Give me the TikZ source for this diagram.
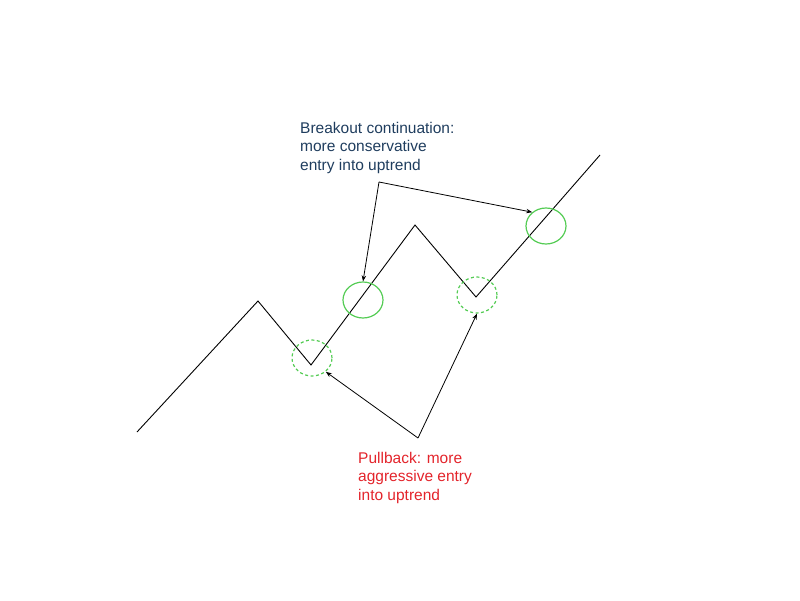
\documentclass[tikz,border=0pt]{standalone}
\usepackage{fontspec}
\setmainfont{Liberation Sans}
\usetikzlibrary{shapes.geometric,arrows.meta}
\definecolor{txtblue}{HTML}{1F3D5E}
\definecolor{txtred}{HTML}{E3242B}
\definecolor{ringgreen}{HTML}{55CC55}
\begin{document}
\begin{tikzpicture}[x=1pt,y=-1pt,
  trend/.style={draw=black,line width=0.9pt,line join=miter},
  ring/.style={draw=ringgreen,line width=1.2pt,ellipse,minimum width=40pt,minimum height=36pt,inner sep=0pt},
  dashring/.style={ring,dash pattern=on 3pt off 2.5pt},
  pointer/.style={draw=black,line width=0.8pt,-{Stealth[length=6pt,width=4.5pt]}},
  note/.style={align=left,anchor=north west,inner sep=0pt,font=\fontsize{15.5pt}{18.7pt}\selectfont}]
\useasboundingbox (0,0) rectangle (800,600);
% zigzag price path
\coordinate (p0) at (137,432);
\coordinate (p1) at (258,301);
\coordinate (p2) at (311,365);
\coordinate (p3) at (415,225);
\coordinate (p4) at (476,297);
\coordinate (p5) at (600,155);
\draw[trend] (p0) -- (p1) -- (p2) -- (p3) -- (p4) -- (p5);
% rings
\node[ring] (c1) at (363,300) {};
\node[ring] (c2) at (546,226) {};
\node[dashring] (d1) at (312,358) {};
\node[dashring] (d2) at (477,295) {};
% texts
\node[note,text=txtblue] (bt) at (300,121.7) {Breakout continuation:\\more conservative\\entry into uptrend};
\node[note,text=txtred] (pt) at (358,451.7) {Pullback: more\\aggressive entry\\into uptrend};
% pointers
\coordinate (bk) at (379,182);
\coordinate (pk) at (418,438);
\draw[pointer] (bk) -- (c1.north);
\draw[pointer] (bk) -- (c2.135);
\draw[pointer] (pk) -- (d1.-45);
\draw[pointer] (pk) -- (d2.south);
\end{tikzpicture}
\end{document}
